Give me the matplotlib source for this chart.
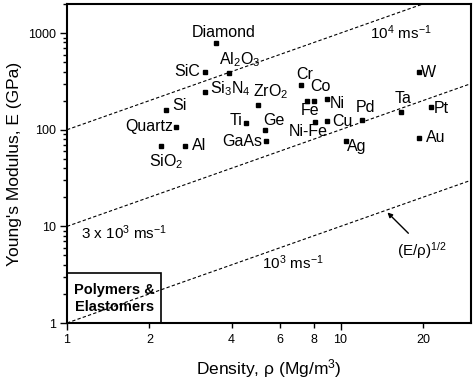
import matplotlib
matplotlib.use('agg')
import matplotlib.pyplot as plt
from matplotlib.patches import Rectangle
from matplotlib.ticker import FixedLocator, LogLocator, NullFormatter, FuncFormatter
import numpy as np

plt.rcParams['font.family'] = ['Liberation Sans', 'DejaVu Sans']
plt.rcParams['mathtext.fontset'] = 'custom'
plt.rcParams['mathtext.rm'] = 'Liberation Sans'
plt.rcParams['mathtext.it'] = 'Liberation Sans'
plt.rcParams['mathtext.bf'] = 'Liberation Sans:bold'

# materials: density (Mg/m^3), Young's modulus (GPa)
materials = ['Diamond', 'SiC', 'Al$_2$O$_3$', 'Si$_3$N$_4$', 'Si', 'Quartz', 'SiO$_2$', 'Al',
             'ZrO$_2$', 'Ti', 'Ge', 'GaAs', 'Cr', 'Fe', 'Co', 'Ni', 'Ni-Fe', 'Cu',
             'Pd', 'Ag', 'Ta', 'W', 'Pt', 'Au']
density = [3.51, 3.2, 3.9, 3.2, 2.3, 2.5, 2.2, 2.7,
           5.0, 4.5, 5.3, 5.35, 7.2, 7.55, 7.98, 8.94, 8.05, 8.94,
           12.0, 10.5, 16.7, 19.4, 21.4, 19.4]
modulus = [783, 396, 390, 246, 161, 107, 68, 68,
           180, 117, 100, 76, 289, 199, 199, 207, 121, 122,
           127, 76, 151, 393, 173, 83]

# label offsets in pixels relative to the marker, and alignment
label_offsets = {
    'Diamond': (8, 11, 'center'), 'SiC': (-5, 0, 'right'), 'Al$_2$O$_3$': (-10, 13, 'left'),
    'Si$_3$N$_4$': (5, 3, 'left'), 'Si': (6, 4, 'left'), 'Quartz': (-3, 0, 'right'),
    'SiO$_2$': (6, -16, 'center'), 'Al': (7, 0, 'left'), 'ZrO$_2$': (-5, 13, 'left'),
    'Ti': (-3, 3, 'right'), 'Ge': (-2, 9, 'left'), 'GaAs': (-4, 0, 'right'),
    'Cr': (3, 11, 'center'), 'Fe': (3, -10, 'center'), 'Co': (-3, 14, 'left'),
    'Ni': (3, -4, 'left'), 'Ni-Fe': (-6, -10, 'center'), 'Cu': (5, 0, 'left'),
    'Pd': (-6, 12, 'left'), 'Ag': (1, -5, 'left'), 'Ta': (2, 14, 'center'),
    'W': (2, 0, 'left'), 'Pt': (3, -2, 'left'), 'Au': (7, 0, 'left'),
}

# constant sound velocity lines: E/rho in GPa per Mg/m^3
line_ratios = [100, 10, 1]
line_labels = ['10$^4$ ms$^{-1}$', '3 x 10$^3$ ms$^{-1}$', '10$^3$ ms$^{-1}$']
line_label_pos = [(16.6, 1000), (1.62, 8.5), (6.7, 4.25)]

x_ticks = [1, 2, 4, 6, 8, 10, 20]
y_ticks = [1, 10, 100, 1000]

fig = plt.figure(figsize=(4.74, 3.81), dpi=100)
ax = fig.add_axes([67 / 474, 58 / 381, 404 / 474, 319 / 381])
ax.set_xscale('log')
ax.set_yscale('log')
ax.set_xlim(1, 30)
ax.set_ylim(1, 2000)

rho = np.array([1, 30])
for r in line_ratios:
    ax.plot(rho, r * rho, color='black', lw=0.8, ls=(0, (3, 2)), zorder=1)
for lbl, (px, py) in zip(line_labels, line_label_pos):
    ax.text(px, py, lbl, fontsize=11, ha='center', va='center')

ax.plot(density, modulus, 's', color='black', ms=2.2, zorder=3)
for name, x, y in zip(materials, density, modulus):
    dx, dy, ha = label_offsets[name]
    ax.annotate(name, (x, y), xytext=(dx, dy), textcoords='offset pixels',
                ha=ha, va='center', fontsize=11.5)

# arrow pointing at the lowest line
ax.annotate('', xy=(14.6, 14.6), xytext=(18.0, 8.1),
            arrowprops=dict(arrowstyle='-|>', color='black', lw=1.0, mutation_scale=7))
ax.text(19.9, 5.6, r'(E/ρ)$^{1/2}$', fontsize=11, ha='center', va='center')

# polymers box
ax.add_patch(Rectangle((1, 1), 1.21, 2.28, fill=False, edgecolor='black', lw=1.2, zorder=4))
ax.text(1.49, 1.78, 'Polymers &\nElastomers', fontsize=10.5, fontweight='bold',
        ha='center', va='center', linespacing=1.3)

ax.xaxis.set_major_locator(FixedLocator([1, 10]))
ax.xaxis.set_minor_locator(FixedLocator([t for t in x_ticks if t not in (1, 10)]))
fmt = FuncFormatter(lambda v, p: '%g' % v)
ax.xaxis.set_major_formatter(fmt)
ax.xaxis.set_minor_formatter(fmt)
ax.yaxis.set_major_locator(FixedLocator(y_ticks))
ax.yaxis.set_major_formatter(fmt)
ax.yaxis.set_minor_locator(LogLocator(base=10, subs=np.arange(2, 10)))
ax.yaxis.set_minor_formatter(NullFormatter())

ax.tick_params(which='both', direction='out', top=False, right=False, labelsize=9, width=1)
ax.tick_params(which='major', length=5, pad=3)
ax.tick_params(axis='x', which='minor', length=3.5, pad=4.5)
ax.tick_params(axis='y', which='minor', length=3)
for s in ax.spines.values():
    s.set_linewidth(1.5)

ax.set_xlabel('Density, ρ (Mg/m$^3$)', fontsize=12.5, labelpad=8)
ax.set_ylabel("Young's Modulus, E (GPa)", fontsize=12.5, labelpad=4)

fig.savefig('out.png', dpi=100)
